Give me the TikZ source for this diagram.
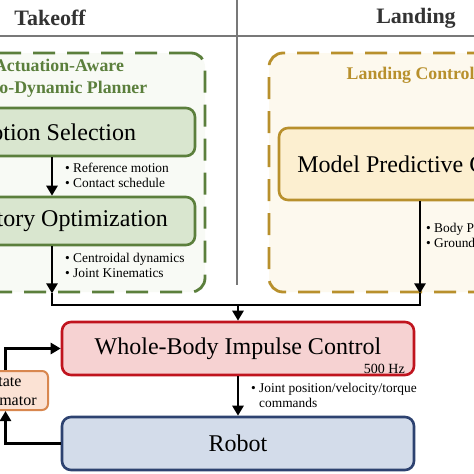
\documentclass[tikz,border=0pt]{standalone}
\usepackage{fontspec}
\setmainfont{Liberation Serif}
\usetikzlibrary{arrows.meta, positioning}

\begin{document}
\begin{tikzpicture}[x=1pt, y=-1pt,
    box/.style={draw, line width=2.6pt, rounded corners=9pt, inner sep=0pt, font=\fontsize{24}{28}\selectfont},
    groupbox/.style={draw, line width=2.8pt, dash pattern=on 22pt off 12pt, rounded corners=14pt, inner sep=0pt},
    flow/.style={line width=2.6pt, -{Triangle[length=10pt, width=11pt]}},
    link/.style={line width=2.6pt},
    note/.style={anchor=west, align=left, inner sep=0pt, font=\fontsize{13.4}{15.5}\selectfont},
    header/.style={font=\bfseries\fontsize{22}{26}\selectfont, text=headText},
    grouptitle/.style={font=\bfseries\fontsize{17.8}{22}\selectfont, align=center}]
    \definecolor{headText}{HTML}{333333}
    \definecolor{divider}{HTML}{787878}
    \definecolor{planGreen}{HTML}{5B7F3C}
    \definecolor{planFill}{HTML}{F8FAF5}
    \definecolor{stepFill}{HTML}{D9E6CF}
    \definecolor{landGold}{HTML}{B8902C}
    \definecolor{landFill}{HTML}{FDF9EE}
    \definecolor{mpcFill}{HTML}{FCEFD0}
    \definecolor{wbRed}{HTML}{C0141E}
    \definecolor{wbFill}{HTML}{F6D2D2}
    \definecolor{robotBlue}{HTML}{2D4270}
    \definecolor{robotFill}{HTML}{D3DCEA}
    \definecolor{estOrange}{HTML}{D8874F}
    \definecolor{estFill}{HTML}{FBE2D4}

    % Fix the frame and cut everything to it
    \useasboundingbox (0,0) rectangle (474,474);
    \fill[white] (0,0) rectangle (474,474);
    \clip (0,0) rectangle (474,474);

    % Phase headers
    \draw[divider, line width=2.6pt] (0,36) -- (474,36);
    \draw[divider, line width=2.6pt] (237,0) -- (237,285);
    \node[header] (takeoff) at (50,18) {Takeoff};
    \node[header] (landing) at (416,18) {Landing};

    % Group boxes
    \node[groupbox, draw=planGreen, fill=planFill, minimum width=290pt, minimum height=239pt] (planner) at (60,172.5) {};
    \node[groupbox, draw=landGold, fill=landFill, minimum width=302pt, minimum height=239pt] (landctrl) at (420,172.5) {};
    \node[grouptitle, text=planGreen] (plantitle) at (59,78) {Actuation-Aware\\Kino-Dynamic Planner};
    \node[grouptitle, text=landGold] (landtitle) at (421,75) {Landing Controller};

    % Blocks
    \node[box, draw=planGreen, fill=stepFill, minimum width=284pt, minimum height=48pt] (motsel) at (53,132) {Motion Selection};
    \node[box, draw=planGreen, fill=stepFill, minimum width=286pt, minimum height=48pt] (trajopt) at (52,221) {Trajectory Optimization};
    \node[box, draw=landGold, fill=mpcFill, minimum width=282pt, minimum height=72pt] (mpc) at (420,164) {Model Predictive Control};
    \node[box, draw=wbRed, fill=wbFill, minimum width=352pt, minimum height=53pt] (wbic) at (238,348.5) {Whole-Body Impulse Control};
    \node[box, draw=robotBlue, fill=robotFill, minimum width=352pt, minimum height=53pt] (robot) at (238,443.5) {Robot};
    \node[box, draw=estOrange, fill=estFill, line width=2pt, rounded corners=6pt, minimum width=85pt, minimum height=39pt,
          align=center, font=\fontsize{16}{19}\selectfont] (stest) at (5.5,390.5) {State\\Estimator};
    \node[anchor=base east, inner sep=0pt, font=\fontsize{14}{16}\selectfont] (hz) at (405,373) {500 Hz};

    % Notes beside the arrows
    \node[note] (refnote) at (65,175.5) {\textbullet\ Reference motion\\\textbullet\ Contact schedule};
    \node[note] (dynnote) at (65,265.5) {\textbullet\ Centroidal dynamics\\\textbullet\ Joint Kinematics};
    \node[note] (mpcnote) at (426,235.5) {\textbullet\ Body Position\\\textbullet\ Ground Reaction Force};
    \node[note] (cmdnote) at (251,395.5) {\textbullet\ Joint position/velocity/torque\\\phantom{\textbullet\ }commands};

    % Connectors
    \coordinate (merge) at (238,305);
    \draw[flow] (motsel.south -| trajopt.north) -- (trajopt.north);
    \draw[flow] (trajopt.south) -- (trajopt.south |- planner.south);
    \draw[flow] (mpc.south) -- (mpc.south |- landctrl.south);
    \draw[link] (trajopt.south |- planner.south) -- (trajopt.south |- merge) -- (mpc.south |- merge) -- (mpc.south |- landctrl.south);
    \draw[flow] (merge) -- (wbic.north);
    \draw[flow] (wbic.south) -- (robot.north);
    \draw[flow] (robot.west) -| (stest.south);
    \draw[flow] (stest.north) |- (wbic.west);

\end{tikzpicture}
\end{document}
